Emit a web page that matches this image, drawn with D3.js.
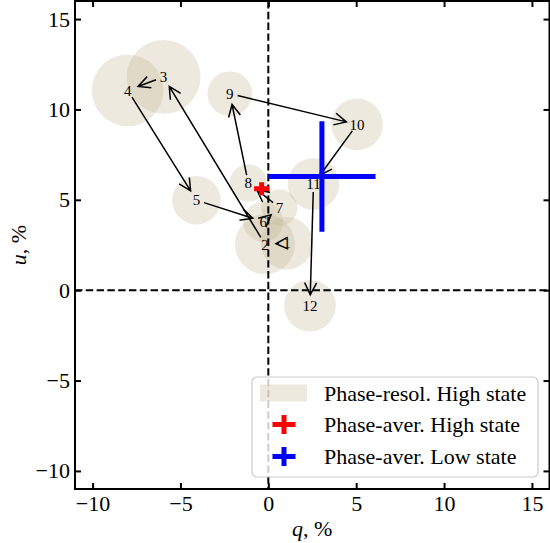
<!DOCTYPE html>
<html>
<head>
<meta charset="utf-8">
<script src="https://cdn.jsdelivr.net/npm/d3@7"></script>
<style>
  body { margin: 0; background: #fff; }
  svg text { font-family: "Liberation Serif", "Times New Roman", serif; fill: #000; }
</style>
</head>
<body>
<div id="chart"></div>
<script>
// phase-resolved points (order = phase bin), values in %
const labels = ["1","2","3","4","5","6","7","8","9","10","11","12"];
const qVals  = [1.06, -0.19, -5.96, -8.0, -4.09, -0.29, 0.63, -1.14, -2.19, 5.05, 2.57, 2.37];
const uVals  = [2.60, 2.54, 11.8, 11.06, 4.98, 3.79, 4.57, 5.93, 10.87, 9.17, 5.87, -0.86];
const errVals = [1.49, 1.71, 2.10, 2.04, 1.38, 1.14, 1.03, 1.06, 1.27, 1.47, 1.47, 1.47];

// phase-averaged points
const highAvg = {q: -0.38, u: 5.61, qErr: 0.43, uErr: 0.36};
const lowAvg  = {q: 3.05, u: 6.29, qErr: 3.05, uErr: 3.06};

const ticks = [-10, -5, 0, 5, 10, 15];
const legendLabels = ["Phase-resol. High state", "Phase-aver. High state", "Phase-aver. Low state"];

const width = 550, height = 543;
const margin = {top: 1, left: 75, right: 0.5, bottom: 54};
const serif = "'Liberation Serif', 'Times New Roman', serif";

const svg = d3.select("#chart")
    .append("svg")
    .attr("width", width)
    .attr("height", height);

const xScale = d3.scaleLinear()
    .domain([-11, 16])
    .range([margin.left, width - margin.right]);

const yScale = d3.scaleLinear()
    .domain([-11, 16])
    .range([height - margin.bottom, margin.top]);

// radius in q-units
const rScale = d3.scaleLinear()
    .domain([0, 1])
    .range([0, xScale(1) - xScale(0)]);

const points = labels.map(function(d, i) {
    return {label: d, q: qVals[i], u: uVals[i], err: errVals[i]};
});

const plot = svg.append("g");
plot.append("clipPath").attr("id", "clip")
    .append("rect")
    .attr("x", xScale(-11)).attr("y", yScale(16))
    .attr("width", xScale(16) - xScale(-11))
    .attr("height", yScale(-11) - yScale(16));

const inner = plot.append("g").attr("clip-path", "url(#clip)");

// circles
inner.selectAll("circle")
    .data(points)
    .enter()
    .append("circle")
        .attr("cx", function(d) { return xScale(d.q); })
        .attr("cy", function(d) { return yScale(d.u); })
        .attr("r", function(d) { return rScale(d.err); })
        .attr("fill", "rgb(196,183,150)")
        .attr("fill-opacity", 0.3);

// zero lines
inner.append("line")
    .attr("x1", xScale(0)).attr("x2", xScale(0))
    .attr("y1", yScale(16)).attr("y2", yScale(-11))
    .attr("stroke", "#000").attr("stroke-width", 2)
    .attr("stroke-dasharray", "7.4,3.4");
inner.append("line")
    .attr("x1", xScale(-11)).attr("x2", xScale(16))
    .attr("y1", yScale(0)).attr("y2", yScale(0))
    .attr("stroke", "#000").attr("stroke-width", 2)
    .attr("stroke-dasharray", "7.4,3.4");

// arrows between consecutive points
const shrinkStart = 8, shrinkEnd = 11, headLen = 12, headW = 6;
for (let i = 0; i < points.length - 1; i++) {
    const x0 = xScale(points[i].q), y0 = yScale(points[i].u);
    const x1 = xScale(points[i + 1].q), y1 = yScale(points[i + 1].u);
    const L = Math.hypot(x1 - x0, y1 - y0);
    const ux = (x1 - x0) / L, uy = (y1 - y0) / L;
    const sx = x0 + ux * shrinkStart, sy = y0 + uy * shrinkStart;
    const ex = x1 - ux * shrinkEnd, ey = y1 - uy * shrinkEnd;
    const bx = ex - ux * headLen, by = ey - uy * headLen;
    inner.append("path")
        .attr("d", `M${sx},${sy}L${ex},${ey}`
            + `M${bx - uy * headW},${by + ux * headW}L${ex},${ey}L${bx + uy * headW},${by - ux * headW}`)
        .attr("fill", "none")
        .attr("stroke", "#000")
        .attr("stroke-width", 1.5);
}

// point labels
inner.selectAll("text.pt")
    .data(points)
    .enter()
    .append("text")
        .attr("class", "pt")
        .attr("x", function(d) { return xScale(d.q); })
        .attr("y", function(d) { return yScale(d.u); })
        .attr("dy", "0.35em")
        .attr("text-anchor", "middle")
        .style("font-size", "15px")
        .text(function(d) { return d.label; });

// error crosses
function cross(g, d, color) {
    g.append("line")
        .attr("x1", xScale(d.q - d.qErr)).attr("x2", xScale(d.q + d.qErr))
        .attr("y1", yScale(d.u)).attr("y2", yScale(d.u))
        .attr("stroke", color).attr("stroke-width", 5);
    g.append("line")
        .attr("x1", xScale(d.q)).attr("x2", xScale(d.q))
        .attr("y1", yScale(d.u - d.uErr)).attr("y2", yScale(d.u + d.uErr))
        .attr("stroke", color).attr("stroke-width", 5);
}
cross(inner, highAvg, "#ff0000");
cross(inner, lowAvg, "#0000ff");

// axes (ticks inward on all sides)
const fmt = function(d) { return d < 0 ? "\u2212" + Math.abs(d) : d; };
const xAxis = svg.append("g")
    .attr("transform", `translate(0,${yScale(-11)})`)
    .call(d3.axisBottom(xScale).tickValues(ticks).tickSizeInner(-6).tickSizeOuter(0).tickPadding(6).tickFormat(fmt));
const yAxis = svg.append("g")
    .attr("transform", `translate(${xScale(-11)},0)`)
    .call(d3.axisLeft(yScale).tickValues(ticks).tickSizeInner(-6).tickSizeOuter(0).tickPadding(5).tickFormat(fmt));
const xAxisTop = svg.append("g")
    .attr("transform", `translate(0,${yScale(16)})`)
    .call(d3.axisTop(xScale).tickValues(ticks).tickSizeInner(-6).tickSizeOuter(0).tickFormat(""));
const yAxisRight = svg.append("g")
    .attr("transform", `translate(${xScale(16)},0)`)
    .call(d3.axisRight(yScale).tickValues(ticks).tickSizeInner(-6).tickSizeOuter(0).tickFormat(""));

svg.selectAll(".domain").remove();
[xAxis, yAxis, xAxisTop, yAxisRight].forEach(function(a) {
    a.attr("font-family", serif).attr("font-size", 22);
});
svg.selectAll(".tick line").attr("stroke", "#000").attr("stroke-width", 2);
svg.selectAll(".tick text")
    .attr("fill", "#000")
    .style("font-family", serif)
    .style("font-size", "22px");

// frame
svg.append("rect")
    .attr("x", xScale(-11)).attr("y", yScale(16))
    .attr("width", xScale(16) - xScale(-11))
    .attr("height", yScale(-11) - yScale(16))
    .attr("fill", "none")
    .attr("stroke", "#000")
    .attr("stroke-width", 2);

// legend
const legend = svg.append("g").attr("transform", "translate(252,377)");
legend.append("rect")
    .attr("width", 286).attr("height", 100)
    .attr("rx", 5)
    .attr("fill", "#fff").attr("fill-opacity", 0.8)
    .attr("stroke", "#ccc").attr("stroke-width", 1.2);
legend.append("rect")
    .attr("x", 8).attr("y", 7.5)
    .attr("width", 47).attr("height", 17)
    .attr("fill", "rgb(196,183,150)").attr("fill-opacity", 0.3);
[["#ff0000", 47.5], ["#0000ff", 79.5]].forEach(function(m) {
    legend.append("path")
        .attr("d", `M20.5,${m[1]}H43.5M32,${m[1] - 9.5}V${m[1] + 9.5}`)
        .attr("stroke", m[0]).attr("stroke-width", 5).attr("fill", "none");
});
legend.selectAll("text")
    .data(legendLabels)
    .enter()
    .append("text")
        .attr("x", 72)
        .attr("y", function(d, i) { return 16 + i * 31.7; })
        .attr("dy", "0.35em")
        .style("font-size", "22px")
        .text(function(d) { return d; });

// axis labels
const xAxisLabel = svg.append("text")
    .attr("x", (xScale(-11) + xScale(16)) / 2)
    .attr("y", 536)
    .attr("text-anchor", "middle")
    .style("font-size", "22px");
xAxisLabel.append("tspan").style("font-style", "italic").text("q");
xAxisLabel.append("tspan").text(", %");

const yAxisLabel = svg.append("text")
    .attr("transform", "rotate(-90)")
    .attr("x", -(yScale(-11) + yScale(16)) / 2)
    .attr("y", 26)
    .attr("text-anchor", "middle")
    .style("font-size", "22px");
yAxisLabel.append("tspan").style("font-style", "italic").text("u");
yAxisLabel.append("tspan").text(", %");
</script>
</body>
</html>
